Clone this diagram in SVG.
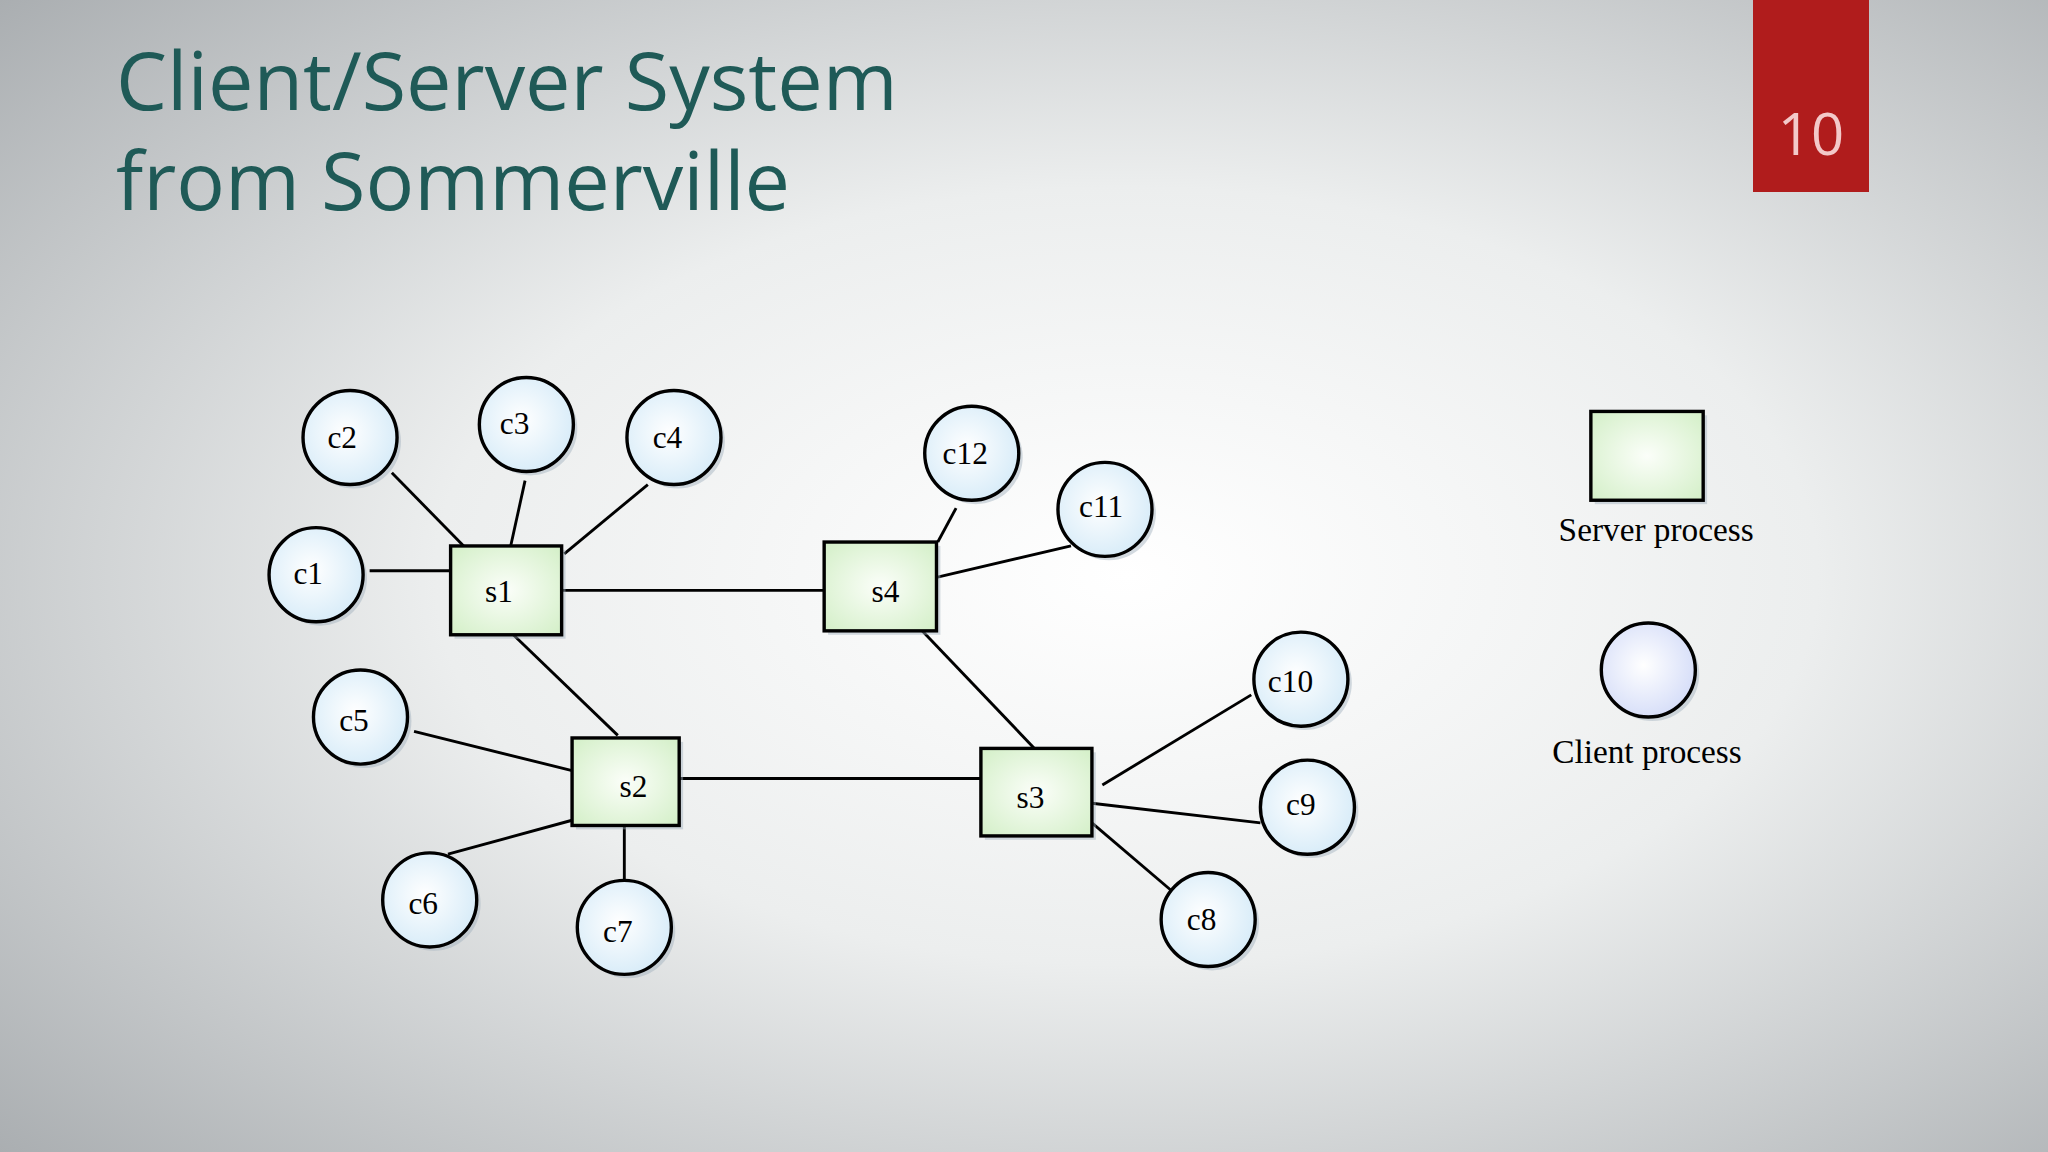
<svg xmlns="http://www.w3.org/2000/svg" width="2048" height="1152" viewBox="0 0 2048 1152">
<defs>
<radialGradient id="bg" cx="0.55" cy="0.5" r="0.75">
<stop offset="0" stop-color="#ffffff"/><stop offset="0.45" stop-color="#eceeee"/><stop offset="1" stop-color="#a9adb0"/>
</radialGradient>
<radialGradient id="cg" cx="0.45" cy="0.45" r="0.6"><stop offset="0" stop-color="#ffffff"/><stop offset="1" stop-color="#d6ebf8"/></radialGradient>
<radialGradient id="sg" cx="0.5" cy="0.5" r="0.7"><stop offset="0" stop-color="#fbfef9"/><stop offset="1" stop-color="#d3efc7"/></radialGradient>
<radialGradient id="lg" cx="0.45" cy="0.45" r="0.6"><stop offset="0" stop-color="#ffffff"/><stop offset="1" stop-color="#d4dcf8"/></radialGradient>
<style>
.c{fill:url(#cg);stroke:#000;stroke-width:2.6}
.s{fill:url(#sg);stroke:#000;stroke-width:2.6}
.sh{fill:#9fb0bc;opacity:0.45}
.t{font-family:"Liberation Serif",serif;font-size:24px;fill:#000;text-anchor:middle}
.lt{font-size:25.5px}
#conn line{stroke:#000;stroke-width:2.2}
</style>
</defs>
<rect width="2048" height="1152" fill="url(#bg)"/>
<g id="title" font-family="'Open Sans','Noto Sans',sans-serif" font-size="81" fill="#1f5a57">
<text x="116" y="110">Client/Server System</text>
<text x="116" y="210">from Sommerville</text>
</g>
<g id="page"><rect x="1753" y="0" width="116" height="192" fill="#b01c1c"/>
<text x="1811" y="155" font-family="'Open Sans','Noto Sans',sans-serif" font-size="58" fill="#f3c9c9" text-anchor="middle">10</text></g>
<g transform="scale(1.30612)">
<g id="conn">
<line x1="283" y1="437" x2="345" y2="437"/>
<line x1="300" y1="362" x2="355" y2="418"/>
<line x1="402" y1="368" x2="391" y2="418"/>
<line x1="496" y1="371" x2="432" y2="424"/>
<line x1="430" y1="452" x2="631" y2="452"/>
<line x1="393" y1="486" x2="473" y2="563"/>
<line x1="317" y1="560" x2="438" y2="590"/>
<line x1="343" y1="654" x2="438" y2="628"/>
<line x1="478" y1="673" x2="478" y2="632"/>
<line x1="520" y1="596" x2="751" y2="596"/>
<line x1="718" y1="415" x2="732" y2="389"/>
<line x1="717" y1="442" x2="820" y2="418"/>
<line x1="706" y1="483" x2="792" y2="573"/>
<line x1="844" y1="601" x2="958" y2="532"/>
<line x1="836" y1="615" x2="965" y2="630"/>
<line x1="836" y1="630" x2="897" y2="682"/>
</g>
<g id="c1"><circle class="sh" cx="245" cy="443" r="36"/><circle class="c" cx="242" cy="440" r="36"/><text class="t" x="236" y="447">c1</text></g>
<g id="c2"><circle class="sh" cx="271" cy="338" r="36"/><circle class="c" cx="268" cy="335" r="36"/><text class="t" x="262" y="343">c2</text></g>
<g id="c3"><circle class="sh" cx="406" cy="328" r="36"/><circle class="c" cx="403" cy="325" r="36"/><text class="t" x="394" y="332">c3</text></g>
<g id="c4"><circle class="sh" cx="519" cy="338" r="36"/><circle class="c" cx="516" cy="335" r="36"/><text class="t" x="511" y="343">c4</text></g>
<g id="c12"><circle class="sh" cx="747" cy="350" r="36"/><circle class="c" cx="744" cy="347" r="36"/><text class="t" x="739" y="355">c12</text></g>
<g id="c11"><circle class="sh" cx="849" cy="393" r="36"/><circle class="c" cx="846" cy="390" r="36"/><text class="t" x="843" y="396">c11</text></g>
<g id="c10"><circle class="sh" cx="999" cy="523" r="36"/><circle class="c" cx="996" cy="520" r="36"/><text class="t" x="988" y="530">c10</text></g>
<g id="c9"><circle class="sh" cx="1004" cy="621" r="36"/><circle class="c" cx="1001" cy="618" r="36"/><text class="t" x="996" y="624">c9</text></g>
<g id="c8"><circle class="sh" cx="928" cy="707" r="36"/><circle class="c" cx="925" cy="704" r="36"/><text class="t" x="920" y="712">c8</text></g>
<g id="c7"><circle class="sh" cx="481" cy="713" r="36"/><circle class="c" cx="478" cy="710" r="36"/><text class="t" x="473" y="721">c7</text></g>
<g id="c6"><circle class="sh" cx="332" cy="692" r="36"/><circle class="c" cx="329" cy="689" r="36"/><text class="t" x="324" y="700">c6</text></g>
<g id="c5"><circle class="sh" cx="279" cy="552" r="36"/><circle class="c" cx="276" cy="549" r="36"/><text class="t" x="271" y="560">c5</text></g>
<g id="s1"><rect class="sh" x="348" y="421" width="85" height="68"/><rect class="s" x="345" y="418" width="85" height="68"/><text class="t" x="382" y="461">s1</text></g>
<g id="s4"><rect class="sh" x="634" y="418" width="86" height="68"/><rect class="s" x="631" y="415" width="86" height="68"/><text class="t" x="678" y="461">s4</text></g>
<g id="s2"><rect class="sh" x="441" y="568" width="82" height="67"/><rect class="s" x="438" y="565" width="82" height="67"/><text class="t" x="485" y="610">s2</text></g>
<g id="s3"><rect class="sh" x="754" y="576" width="85" height="67"/><rect class="s" x="751" y="573" width="85" height="67"/><text class="t" x="789" y="619">s3</text></g>
<g id="legend">
<rect class="sh" x="1221" y="318" width="86" height="68"/><rect class="s" x="1218" y="315" width="86" height="68"/>
<text class="t lt" x="1268" y="414">Server process</text>
<circle class="sh" cx="1265" cy="516" r="36"/><circle cx="1262" cy="513" r="36" fill="url(#lg)" stroke="#000" stroke-width="2.6"/>
<text class="t lt" x="1261" y="584">Client process</text>
</g>
</g>
</svg>
